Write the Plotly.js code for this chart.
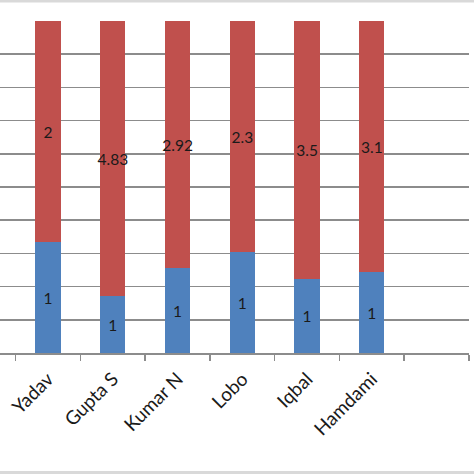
<!DOCTYPE html>
<html>
<head>
<meta charset="utf-8">
<script src="https://cdn.plot.ly/plotly-3.0.1.min.js"></script>
<style>html,body{margin:0;padding:0;background:#fff;}#chart{width:474px;height:474px;}</style>
</head>
<body>
<div id="chart"></div>
<script>
var categories = ["Yadav", "Gupta S", "Kumar N", "Lobo", "Iqbal", "Hamdami", " "];
var blueValues = [1, 1, 1, 1, 1, 1, null];
var redValues = [2, 4.83, 2.92, 2.3, 3.5, 3.1, null];

function labels(arr) { return arr.map(function (v) { return v === null ? "" : String(v); }); }

var common = {
  type: "bar",
  x: categories,
  width: 0.39,
  textposition: "inside",
  insidetextanchor: "middle",
  textangle: 0,
  constraintext: "none",
  textfont: { family: "Lato", size: 15.5, color: "#1a1a1a" },
  hoverinfo: "skip"
};

var blue = Object.assign({}, common, {
  y: blueValues, text: labels(blueValues), marker: { color: "#4F81BD", line: { width: 0 } }
});
var red = Object.assign({}, common, {
  y: redValues, text: labels(redValues), marker: { color: "#C0504D", line: { width: 0 } }
});

var ph = 332;
function py(px) { return (353 - px) / ph; }

var layout = {
  width: 474, height: 474,
  margin: { l: 0, r: 4.7, t: 21, b: 121, pad: 0 },
  paper_bgcolor: "#ffffff", plot_bgcolor: "#ffffff",
  barmode: "stack", barnorm: "percent",
  showlegend: false,
  xaxis: {
    type: "category",
    range: [-0.742, 6.5],
    tickangle: -45,
    ticks: "outside", tickson: "boundaries", ticklen: 6, tickcolor: "#8c8c8c", tickwidth: 1.5,
    ticklabelstandoff: 6,
    showline: true, linecolor: "#8c8c8c", linewidth: 1.5,
    showgrid: false, zeroline: false,
    tickfont: { family: "Lato", size: 19, color: "#1a1a1a" },
    fixedrange: true
  },
  yaxis: {
    range: [0, 100], dtick: 10,
    showticklabels: false, ticks: "",
    showgrid: true, gridcolor: "#8c8c8c", gridwidth: 1.5,
    zeroline: false, showline: false,
    fixedrange: true
  },
  shapes: [
    { type: "line", xref: "paper", yref: "paper", x0: -0.01, x1: 1.02, y0: py(1), y1: py(1), line: { color: "#d9d9d9", width: 3 } },
    { type: "line", xref: "paper", yref: "paper", x0: -0.01, x1: 1.02, y0: py(472.5), y1: py(472.5), line: { color: "#d9d9d9", width: 3 } }
  ]
};

Plotly.newPlot("chart", [blue, red], layout, { displayModeBar: false, staticPlot: true });
</script>
</body>
</html>
